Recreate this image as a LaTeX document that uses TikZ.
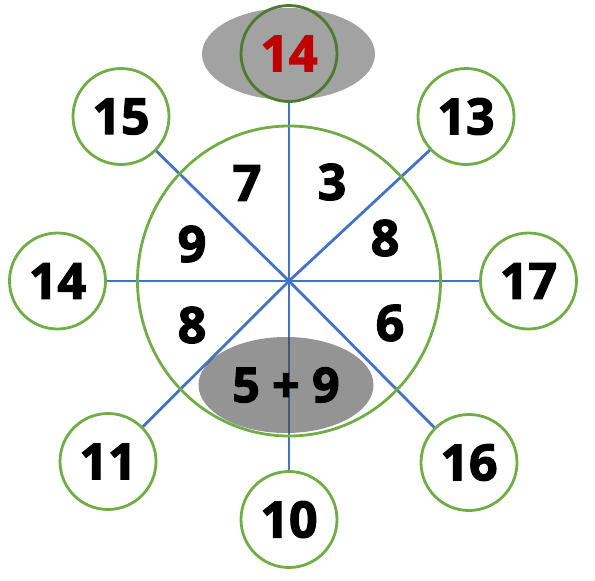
\documentclass[tikz,border=0pt]{standalone}
\usepackage{fontspec}
\setmainfont{Open Sans}[BoldFeatures={FakeBold=2.5}]
\usepackage{tikz}
\usetikzlibrary{calc}
\usetikzlibrary{shapes.geometric}
\definecolor{ringgreen}{RGB}{112,173,71}
\definecolor{darkgreen}{RGB}{78,122,48}
\definecolor{spokeblue}{RGB}{68,114,196}
\definecolor{numred}{RGB}{192,0,0}
\definecolor{shade}{RGB}{70,70,70}
\tikzset{
  ring/.style={shape=circle,draw=ringgreen,line width=2.8pt,fill=white,minimum size=96pt,inner sep=0pt,font=\bfseries\fontsize{50}{50}\selectfont},
  spoke/.style={draw=spokeblue,line width=2.8pt},
  numtext/.style={font=\bfseries\fontsize{50}{50}\selectfont,inner sep=0pt},
  blob/.style={shape=ellipse,draw=none,fill=shade,inner sep=0pt,text opacity=1}
}
\newcommand{\ringnode}[4]{\node[ring] (#1) at ( #2 , #3 ) {#4};}
\newcommand{\sector}[4]{\node[numtext] (#1) at ( #2 , #3 ) {#4};}

\begin{document}
\begin{tikzpicture}[x=1pt,y=-1pt]
\useasboundingbox (0,0) rectangle (595,581);
\coordinate (c) at (289,281);
% outer circles
\ringnode{o15}{121}{116.5}{15}
\ringnode{o13}{466}{116.5}{13}
\ringnode{o14}{57.5}{281}{14}
\ringnode{o17}{528.5}{281}{17}
\ringnode{o11}{108}{461.5}{11}
\ringnode{o16}{469}{462.5}{16}
\ringnode{o10}{289}{519.5}{10}
% top circle under its shadow
\node[blob,fill opacity=0.5,minimum width=173pt,minimum height=92pt] (topblob) at (288.5,54) {};
\node[ring,draw=darkgreen,fill=none,text=numred] (o14t) at (289,53.5) {14};
% spokes
\draw[spoke] (c) -- (o14t);
\draw[spoke] (c) -- (o10);
\draw[spoke] (c) -- (o14);
\draw[spoke] (c) -- (o17);
\draw[spoke] (c) -- (o15);
\draw[spoke] (c) -- (o16);
\draw[spoke] (c) -- (o13);
\draw[spoke] (c) -- (o11);
% big circle
\draw[draw=ringgreen,line width=2.8pt] (c) ellipse (151.5 and 155);
% sector numbers
\sector{s7}{247}{183}{7}
\sector{s3}{332}{182}{3}
\sector{s9}{192}{244}{9}
\sector{s8a}{385}{238}{8}
\sector{s8b}{192}{325}{8}
\sector{s6}{390}{323}{6}
% bottom shadow with the sum
\node[blob,fill opacity=0.58,minimum width=175pt,minimum height=96pt,font=\bfseries\fontsize{48}{48}\selectfont] (sum) at (286,385) {5 + 9};
\end{tikzpicture}
\end{document}
